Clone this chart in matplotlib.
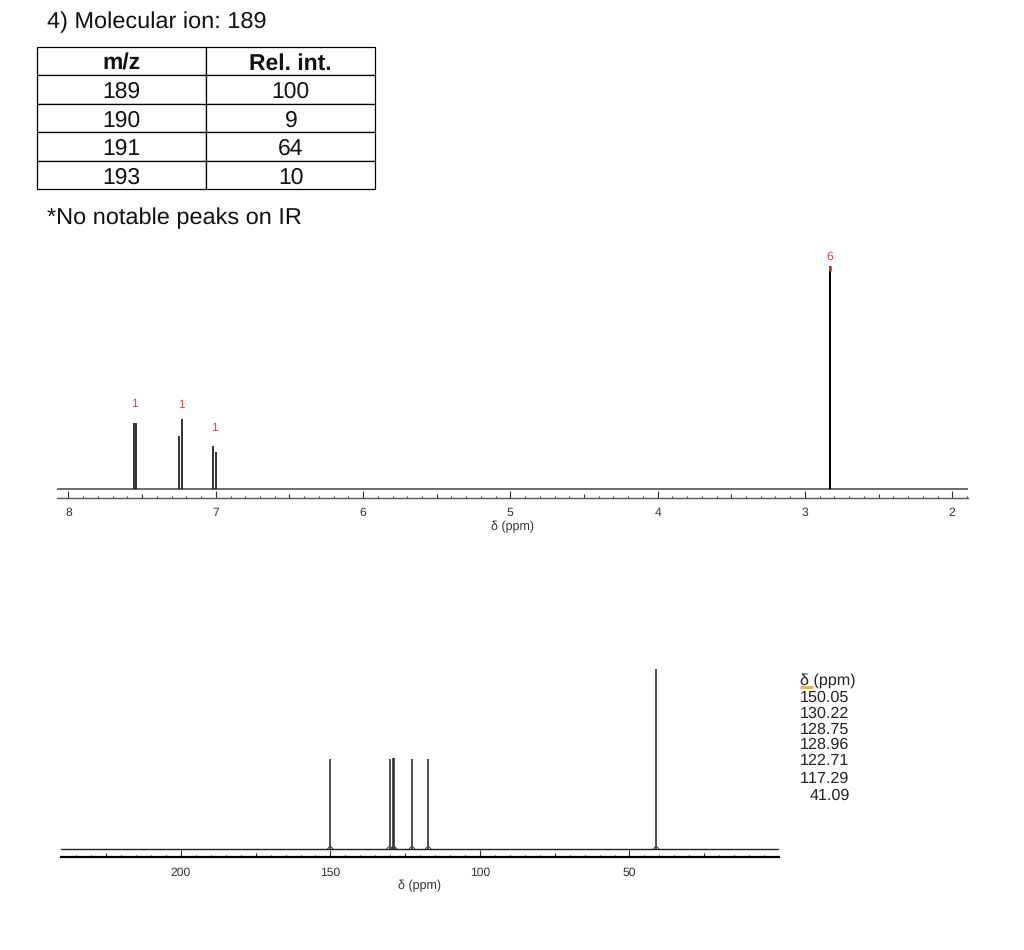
import matplotlib
matplotlib.use('Agg')
import matplotlib.pyplot as plt
import numpy as np

plt.rcParams['font.family'] = ['Liberation Sans', 'DejaVu Sans']
plt.rcParams['text.hinting'] = 'no_hinting'
plt.rcParams['text.hinting_factor'] = 8
plt.rcParams['text.kerning_factor'] = 6

W, H = 1024, 950

# mass spec table
MZ = ['189', '190', '191', '193']
REL_INT = ['100', '9', '64', '10']

# 1H spectrum
H_PPM = [7.555, 7.545, 7.248, 7.227, 7.021, 7.000, 2.830]
H_INT = [29.6, 29.6, 23.9, 31.5, 19.5, 16.4, 100.0]
H_TICKS = [8, 7, 6, 5, 4, 3, 2]
H_LABEL_PPM = [7.555, 7.23, 7.01, 2.83]
H_LABEL_Y = [404, 405, 428, 257]
H_LABELS = ['1', '1', '1', '6']

# 13C spectrum
C_PPM = [150.05, 130.22, 128.96, 128.75, 122.71, 117.29, 41.09]
C_INT = [50.0, 50.0, 50.5, 50.5, 50.0, 50.0, 100.0]
C_TICKS = [200, 150, 100, 50]
C_LIST = ['150.05', '130.22', '128.75', '128.96', '122.71', '117.29', '41.09']
C_LIST_Y = [698, 714, 729.5, 745, 760.5, 779, 796]


def px_axes(fig, left, top, right, bottom):
    return fig.add_axes([left / W, 1 - bottom / H, (right - left) / W, (bottom - top) / H])


def setup_axis(ax, major, medium, minor, color, lw):
    for s in ['top', 'left', 'right']:
        ax.spines[s].set_visible(False)
    ax.spines['bottom'].set_color(color)
    ax.spines['bottom'].set_linewidth(lw)
    ax.set_yticks([])
    ax.set_xticks(major)
    ax.set_xticklabels([str(m) for m in major])
    ax.set_xticks(minor, minor=True)
    ax.tick_params(axis='x', which='major', direction='in', length=5, width=0.8,
                   color='#333333', labelsize=8.7, labelcolor='#333333', pad=6.8)
    ax.tick_params(axis='x', which='minor', direction='in', length=1.6, width=0.8,
                   color='#333333')
    # third tier of ticks, halfway between the labelled ones
    for t, loc in zip(ax.xaxis.get_minor_ticks(), minor):
        if any(abs(loc - m) < 1e-6 for m in medium):
            t.tick1line.set_markersize(3)
    ax.set_xlabel('δ (ppm)', fontsize=9, color='#333333', labelpad=1.5)


fig = plt.figure(figsize=(W / 100, H / 100), dpi=100, facecolor='white')

# ---- 1H spectrum ----
ax_h = px_axes(fig, 57, 250, 968, 497.7)
ax_h.set_xlim(8.078, 1.893)
ax_h.set_ylim(-3.9, 107.2)
ax_h.axhline(0, color='#444444', lw=1.1)
ax_h.vlines(H_PPM[:-1], 0, H_INT[:-1], color='#111111', lw=1.2)
ax_h.vlines(H_PPM[-1], 0, H_INT[-1], color='black', lw=1.4)
ax_h.vlines(H_PPM[-1], 97.8, H_INT[-1], color='#d8352a', lw=2.0, zorder=4)
h_minor = [t / 10 for t in range(19, 81)]
h_minor = [t for t in h_minor if t not in H_TICKS]
h_medium = [t + 0.5 for t in H_TICKS[1:]]
setup_axis(ax_h, H_TICKS, h_medium, h_minor, '#555555', 1.0)
ax_h.patch.set_alpha(0)

# ---- 13C spectrum ----
ax_c = px_axes(fig, 61, 660, 779, 857.3)
ax_c.set_xlim(240.1, 0)
ax_c.set_ylim(-4.8, 105)
ax_c.axhline(0, color='#222222', lw=1.0)
ax_c.vlines(C_PPM, 0, C_INT, color='#222222', lw=1.1)
# small foot under each carbon line
for p, i in zip(C_PPM, C_INT):
    ax_c.plot([p + 0.9, p, p - 0.9], [0, 1.5, 0], color='#444444', lw=0.7)
c_minor = [t for t in range(5, 240, 5) if t not in C_TICKS]
c_medium = [25, 75, 125, 175, 225]
setup_axis(ax_c, C_TICKS, c_medium, c_minor, 'black', 1.6)
ax_c.patch.set_alpha(0)

# ---- mass spec table ----
ax_t = px_axes(fig, 37.3, 46.7, 375.3, 189.3)
ax_t.axis('off')
tbl = ax_t.table(cellText=[[m, r] for m, r in zip(MZ, REL_INT)],
                 colLabels=['m/z', 'Rel. int.'], cellLoc='center',
                 bbox=[0, 0, 1, 1])
tbl.auto_set_font_size(False)
for (row, col), cell in tbl.get_celld().items():
    cell.set_linewidth(0.9)
    cell.set_edgecolor('black')
    cell.get_text().set_fontsize(16.5)
    cell.get_text().set_color('#111111')
    cell.get_text().set_verticalalignment('center_baseline')
    if row == 0:
        cell.get_text().set_fontweight('bold')

# ---- page text, in pixel coordinates ----
page = fig.add_axes([0, 0, 1, 1])
page.set_xlim(0, W)
page.set_ylim(H, 0)
page.axis('off')
page.patch.set_alpha(0)

page.text(47, 22.5, '4) Molecular ion: 189', fontsize=16.9, color='#111111', va='center')
page.text(47, 218, '*No notable peaks on IR', fontsize=16.9, color='#111111', va='center')

for p, y, s in zip(H_LABEL_PPM, H_LABEL_Y, H_LABELS):
    x = 57 + (8.078 - p) / (8.078 - 1.893) * (968 - 57)
    page.text(x, y, s, fontsize=8.7, color='#f04040', ha='center', va='center')

page.text(800.5, 681, 'δ (ppm)', fontsize=11.6, color='#222222', va='center')
page.plot([800, 813], [687, 687], color='#f0b050', lw=2.2, solid_capstyle='butt')
for s, y in zip(C_LIST, C_LIST_Y):
    page.text(849.5, y, s, fontsize=11.6, color='#222222', ha='right', va='center')

fig.savefig('out.png', dpi=100)
